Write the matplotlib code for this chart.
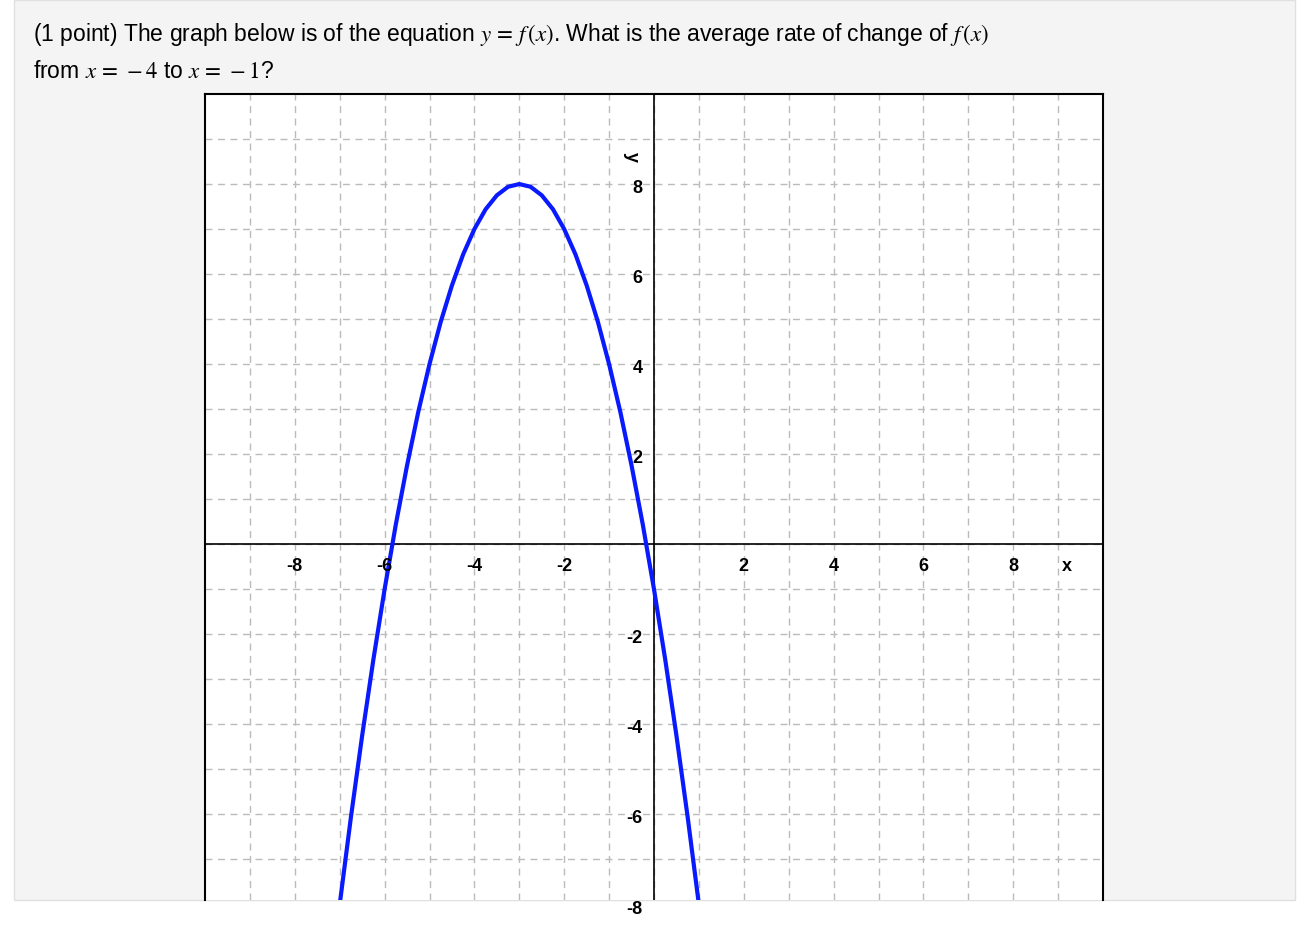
import matplotlib
matplotlib.use("Agg")
import matplotlib.pyplot as plt
from matplotlib.patches import Rectangle

plt.rcParams["mathtext.fontset"] = "stix"
plt.rcParams["font.family"] = ["Liberation Sans", "DejaVu Sans"]

# curve points
curve_x = [-7, -6.75, -6.5, -6.25, -6, -5.75, -5.5, -5.25, -5, -4.75, -4.5, -4.25, -4,
           -3.75, -3.5, -3.25, -3, -2.75, -2.5, -2.25, -2, -1.75, -1.5, -1.25, -1,
           -0.75, -0.5, -0.25, 0, 0.25, 0.5, 0.75, 1]
curve_y = [-8, -6.06, -4.25, -2.56, -1, 0.44, 1.75, 2.94, 4, 4.94, 5.75, 6.44, 7,
           7.44, 7.75, 7.94, 8, 7.94, 7.75, 7.44, 7, 6.44, 5.75, 4.94, 4,
           2.94, 1.75, 0.44, -1, -2.56, -4.25, -6.06, -8]

x_tick_labels = [-8, -6, -4, -2, 2, 4, 6, 8]
y_tick_labels = [8, 6, 4, 2, -2, -4, -6, -8]

W, H = 1301, 932
fig = plt.figure(figsize=(W / 100, H / 100), dpi=100)

# page background panel
fig.patches.append(Rectangle((14 / W, 1 - 900 / H), (1295 - 14) / W, 900 / H,
                             transform=fig.transFigure, facecolor="#f4f4f4",
                             edgecolor="#e0e0e0", zorder=-10))

fig.text(33 / W, 1 - 34 / H,
         r"(1 point) The graph below is of the equation $y\,=\,f\,(x)$. What is the average rate of change of $f\,(x)$",
         fontsize=16.5, va="center", ha="left")
fig.text(33 / W, 1 - 72 / H, r"from $x\,=\,-4$ to $x\,=\,-1$?",
         fontsize=16.5, va="center", ha="left")

ax = fig.add_axes([205 / W, 1 - 900 / H, (1103 - 205) / W, (900 - 94) / H])
ax.set_facecolor("white")
ax.set_xlim(-10, 10)
ax.set_ylim(-7.9, 10)

for v in range(-9, 10):
    ax.axvline(v, color="#bbbbbb", lw=1, ls=(0, (5, 4)), zorder=0)
for v in range(-7, 10):
    ax.axhline(v, color="#bbbbbb", lw=1, ls=(0, (5, 4)), zorder=0)
ax.axhline(0, color="black", lw=1.2, zorder=1)
ax.axvline(0, color="black", lw=1.2, zorder=1)

ax.plot(curve_x, curve_y, color="#0a1aff", lw=3, zorder=3, clip_on=True)

for v in x_tick_labels:
    ax.text(v, -0.5, str(v), ha="center", va="center", fontsize=13, fontweight="bold")
for v in y_tick_labels:
    ax.text(-0.25, v - 0.1, str(v), ha="right", va="center", fontsize=13, fontweight="bold")
ax.text(9.2, -0.5, "x", ha="center", va="center", fontsize=13, fontweight="bold")
ax.text(-0.5, 8.6, "y", ha="center", va="center", fontsize=13, fontweight="bold", rotation=-90)

ax.set_xticks([])
ax.set_yticks([])
for s in ["left", "right", "top"]:
    ax.spines[s].set_linewidth(1.5)
ax.spines["bottom"].set_visible(False)

fig.savefig("out.png", dpi=100)
